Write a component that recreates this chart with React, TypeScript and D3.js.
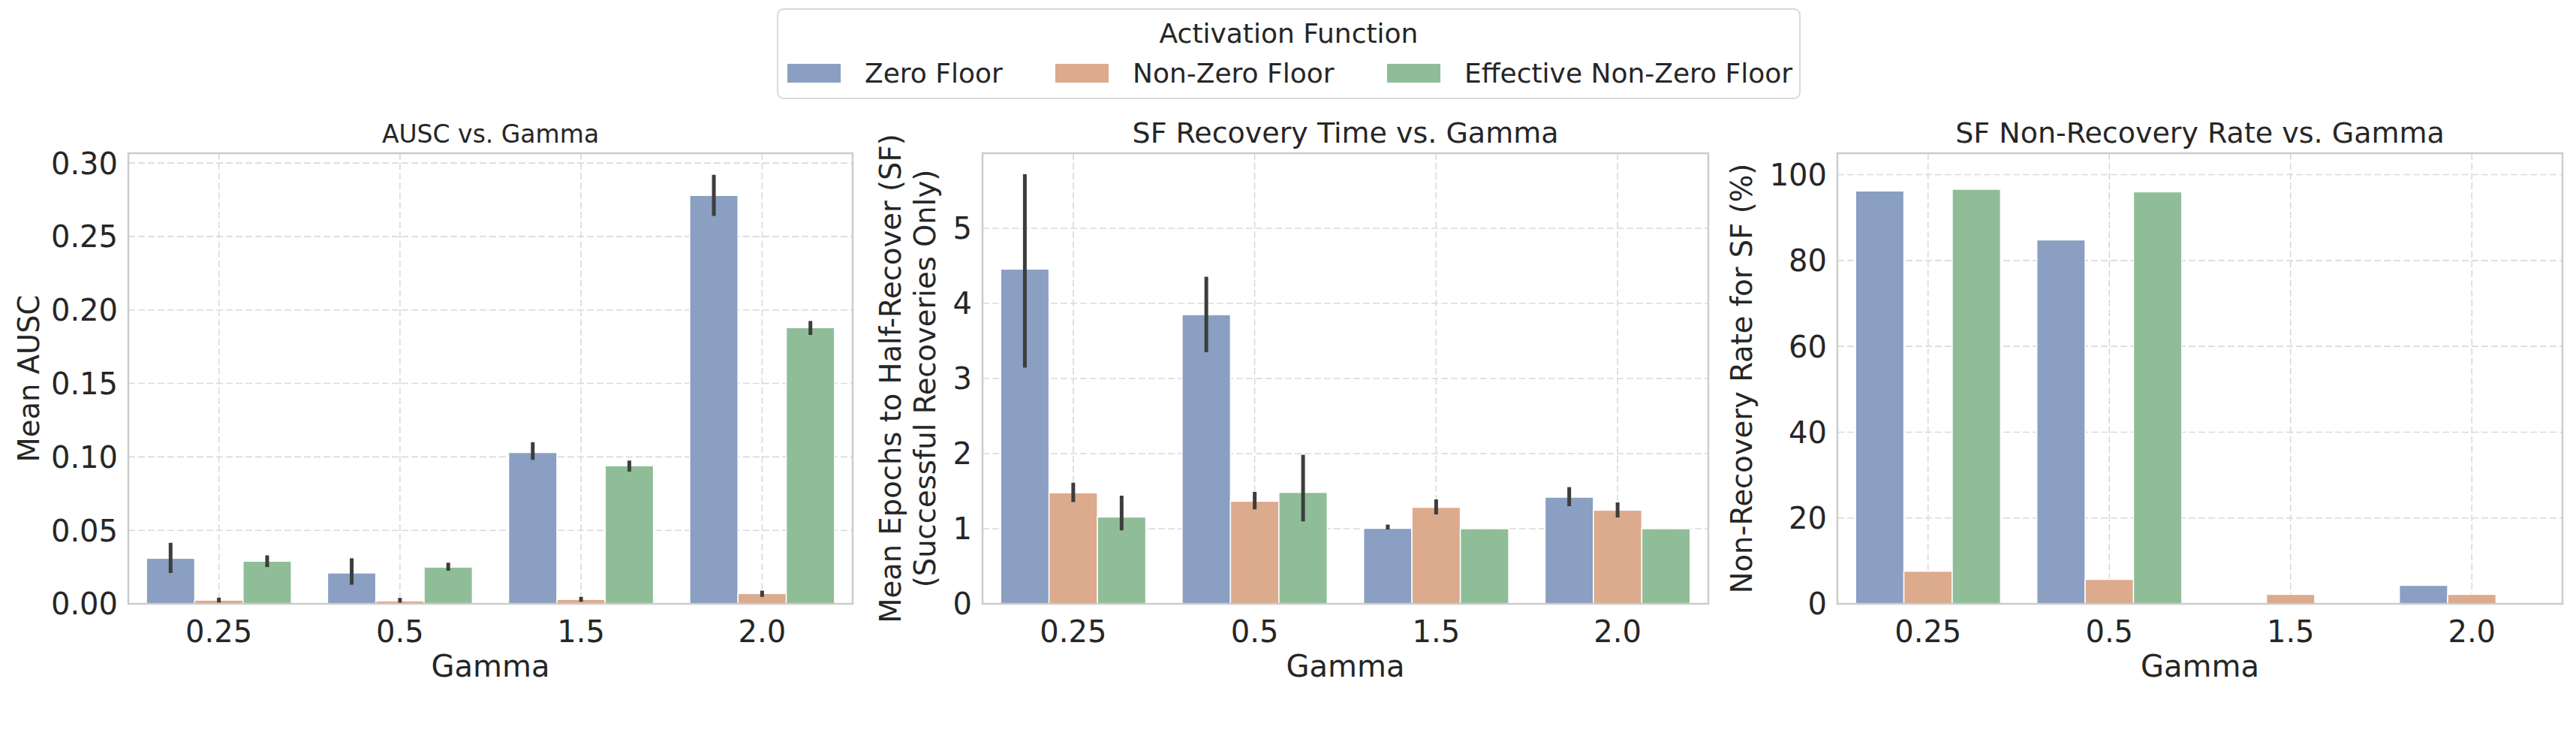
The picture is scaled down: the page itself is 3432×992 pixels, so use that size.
import * as d3 from 'd3';

const gammas = ['0.25', '0.5', '1.5', '2.0'];
const series = ['Zero Floor', 'Non-Zero Floor', 'Effective Non-Zero Floor'];
const colors = ['#8a9fc1', '#dcaa8c', '#8fbd98'];

// AUSC (mean, ci low, ci high) per series
const auscMean = [
  [0.031, 0.021, 0.103, 0.278],
  [0.0025, 0.002, 0.003, 0.007],
  [0.029, 0.025, 0.094, 0.188],
];
const auscLo = [
  [0.021, 0.013, 0.098, 0.264],
  [0.0008, 0.0007, 0.0014, 0.0047],
  [0.025, 0.0225, 0.09, 0.183],
];
const auscHi = [
  [0.0415, 0.031, 0.11, 0.292],
  [0.0042, 0.004, 0.0047, 0.009],
  [0.033, 0.028, 0.0975, 0.1925],
];

// recovery time
const recMean = [
  [4.457, 3.85, 1.005, 1.42],
  [1.478, 1.366, 1.285, 1.247],
  [1.156, 1.484, 1.0, 1.0],
];
const recLo = [
  [3.145, 3.35, 0.99, 1.3],
  [1.355, 1.258, 1.19, 1.15],
  [0.978, 1.097, null, null],
];
const recHi = [
  [5.72, 4.355, 1.055, 1.554],
  [1.613, 1.49, 1.39, 1.35],
  [1.44, 1.984, null, null],
];

// non-recovery rate (%)
const nonRec = [
  [96.2, 84.8, 0, 4.3],
  [7.6, 5.7, 2.2, 2.2],
  [96.6, 96.0, 0, 0],
];

const auscTicks = [0, 0.05, 0.1, 0.15, 0.2, 0.25, 0.3];
const recTicks = [0, 1, 2, 3, 4, 5];
const nonRecTicks = [0, 20, 40, 60, 80, 100];

const TEXT = '#262626';
const FONT = 'DejaVu Sans, sans-serif';
const Y0 = 204;
const Y1 = 804;

interface PanelProps {
  x0: number;
  x1: number;
  ymax: number;
  ticks: number[];
  fmt: (v: number) => string;
  mean: number[][];
  lo?: (number | null)[][];
  hi?: (number | null)[][];
  title: string;
  titleSize: number;
  ylabel: string[];
  ylabelX: number[];
}

function Panel(p: PanelProps) {
  const x = d3.scaleBand<string>().domain(gammas).range([p.x0, p.x1]).paddingInner(0.2).paddingOuter(0.1);
  const hue = d3.scaleBand<number>().domain([0, 1, 2]).range([0, x.bandwidth()]);
  const y = d3.scaleLinear().domain([0, p.ymax]).range([Y1, Y0]);
  const cx = (g: string) => (x(g) as number) + x.bandwidth() / 2;
  const midY = (Y0 + Y1) / 2;

  return (
    <g>
      {/* grid */}
      {p.ticks.map((t) => (
        <line key={'gy' + t} x1={p.x0} x2={p.x1} y1={y(t)} y2={y(t)} stroke="#dadada" strokeWidth={1.6} strokeDasharray="9,4" />
      ))}
      {gammas.map((g) => (
        <line key={'gx' + g} x1={cx(g)} x2={cx(g)} y1={Y0} y2={Y1} stroke="#dadada" strokeWidth={1.6} strokeDasharray="9,4" />
      ))}
      {/* bars */}
      {series.map((s, si) =>
        gammas.map((g, gi) => {
          const v = p.mean[si][gi];
          if (!v) return null;
          const bx = (x(g) as number) + (hue(si) as number);
          return (
            <rect key={s + g} x={bx} y={y(v)} width={hue.bandwidth()} height={Y1 - y(v)} fill={colors[si]} stroke="#ffffff" strokeWidth={1.5} />
          );
        })
      )}
      {/* error bars */}
      {p.lo &&
        p.hi &&
        series.map((s, si) =>
          gammas.map((g, gi) => {
            const l = p.lo![si][gi];
            const h = p.hi![si][gi];
            if (l == null || h == null) return null;
            const ex = (x(g) as number) + (hue(si) as number) + hue.bandwidth() / 2;
            return <line key={'e' + s + g} x1={ex} x2={ex} y1={y(l)} y2={y(h)} stroke="#3d3d3d" strokeWidth={5} />;
          })
        )}
      {/* spines */}
      <rect x={p.x0} y={Y0} width={p.x1 - p.x0} height={Y1 - Y0} fill="none" stroke="#cccccc" strokeWidth={2.5} />
      {/* y ticks */}
      {p.ticks.map((t) => (
        <text key={'ty' + t} x={p.x0 - 14} y={y(t)} dy="0.36em" textAnchor="end" fontSize={40} fill={TEXT}>
          {p.fmt(t)}
        </text>
      ))}
      {/* x ticks */}
      {gammas.map((g) => (
        <text key={'tx' + g} x={cx(g)} y={855} textAnchor="middle" fontSize={40} fill={TEXT}>
          {g}
        </text>
      ))}
      <text x={(p.x0 + p.x1) / 2} y={901} textAnchor="middle" fontSize={40} fill={TEXT}>
        Gamma
      </text>
      {p.ylabel.map((l, i) => (
        <text key={'yl' + i} transform={`translate(${p.ylabelX[i]},${midY}) rotate(-90)`} dy="0.36em" textAnchor="middle" fontSize={38.5} fill={TEXT}>
          {l}
        </text>
      ))}
      <text x={(p.x0 + p.x1) / 2} y={190} textAnchor="middle" fontSize={p.titleSize} fill={TEXT}>
        {p.title}
      </text>
    </g>
  );
}

export default function App() {
  const legendX = [1049, 1406, 1848];
  return (
    <svg width={3432} height={992} style={{ position: 'absolute', left: 0, top: 0, background: '#fff' }} fontFamily={FONT}>
      <rect x={0} y={0} width={3432} height={992} fill="#ffffff" />
      <Panel
        x0={171}
        x1={1136}
        ymax={0.3067}
        ticks={auscTicks}
        fmt={d3.format('.2f')}
        mean={auscMean}
        lo={auscLo}
        hi={auscHi}
        title="AUSC vs. Gamma"
        titleSize={33}
        ylabel={['Mean AUSC']}
        ylabelX={[38]}
      />
      <Panel
        x0={1309}
        x1={2276}
        ymax={6.0}
        ticks={recTicks}
        fmt={d3.format('d')}
        mean={recMean}
        lo={recLo}
        hi={recHi}
        title="SF Recovery Time vs. Gamma"
        titleSize={38}
        ylabel={['Mean Epochs to Half-Recover (SF)', '(Successful Recoveries Only)']}
        ylabelX={[1186, 1232]}
      />
      <Panel
        x0={2448}
        x1={3414}
        ymax={105}
        ticks={nonRecTicks}
        fmt={d3.format('d')}
        mean={nonRec}
        title="SF Non-Recovery Rate vs. Gamma"
        titleSize={38}
        ylabel={['Non-Recovery Rate for SF (%)']}
        ylabelX={[2320]}
      />
      {/* legend */}
      <rect x={1036} y={12} width={1362} height={119} rx={8} fill="#ffffff" stroke="#d9d9d9" strokeWidth={2} />
      <text x={1717} y={57} textAnchor="middle" fontSize={36} fill={TEXT}>
        Activation Function
      </text>
      {series.map((s, i) => (
        <g key={s}>
          <rect x={legendX[i]} y={85} width={71} height={25} fill={colors[i]} />
          <text x={legendX[i] + 103} y={110} fontSize={36} fill={TEXT}>
            {s}
          </text>
        </g>
      ))}
    </svg>
  );
}
